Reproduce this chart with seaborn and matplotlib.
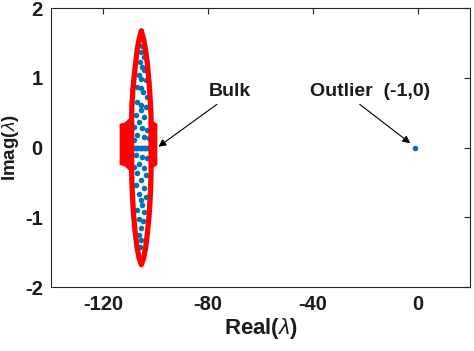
import matplotlib
matplotlib.use("Agg")
import matplotlib.pyplot as plt
import seaborn as sns
import pandas as pd

# ---------------- data ----------------
# red boundary of the bulk spectrum (centre line of the thick red curve)
outline_x = [-105.5, -104.6, -103.9, -103.2, -102.7, -102.3, -102.0, -101.8, -101.8,
             -101.8, -101.9, -102.1, -102.5, -103.1, -103.8, -104.6, -105.5,
             -106.4, -107.2, -107.9, -108.5, -108.9, -109.1, -109.2, -109.2,
             -109.2, -109.1, -108.8, -108.3, -107.7, -107.1, -106.4, -105.5]
outline_y = [1.67, 1.55, 1.40, 1.20, 1.00, 0.80, 0.60, 0.45, 0.35,
             -0.35, -0.50, -0.70, -0.95, -1.20, -1.42, -1.58, -1.68,
             -1.58, -1.42, -1.20, -0.95, -0.70, -0.50, -0.35, 0.35,
             0.45, 0.60, 0.80, 1.00, 1.20, 1.40, 1.55, 1.67]
# red blocks near the real axis
left_block_x = [-109.3, -111.8, -113.8, -113.8, -111.8, -109.3]
left_block_y = [0.45, 0.36, 0.34, -0.25, -0.27, -0.36]
right_block_x = [-101.8, -99.4, -99.4, -101.8]
right_block_y = [0.40, 0.34, -0.25, -0.31]

# blue eigenvalues of the bulk
bulk_x = [-105.2, -105.8, -104.6, -106.1, -105.2, -104.3, -106.5, -105.6, -103.9,
          -107.1, -105.8, -104.8, -103.3, -107.1, -105.6, -103.9,
          -105.8, -107.7, -104.6, -106.5, -108.4, -105.2, -103.3, -107.1, -104.6,
          -102.7, -108.4,
          -107.7, -105.2, -103.3, -106.5, -108.4, -104.6, -107.1, -103.9, -105.8,
          -107.7,
          -104.6, -106.5, -103.9, -105.8, -105.2, -107.1, -104.6, -106.5, -104.8,
          -105.8, -106.5, -105.6, -106.1]
bulk_y = [1.45, 1.37, 1.30, 1.23, 1.16, 1.11, 1.04, 0.99, 0.97,
          0.87, 0.85, 0.80, 0.73, 0.66, 0.61, 0.58,
          0.54, 0.47, 0.44, 0.37, 0.30, 0.28, 0.25, 0.18, 0.15,
          0.13, 0.11,
          -0.11, -0.13, -0.15, -0.23, -0.28, -0.30, -0.37, -0.39, -0.47,
          -0.54,
          -0.58, -0.66, -0.71, -0.75, -0.82, -0.90, -0.92, -1.02, -1.06,
          -1.16, -1.25, -1.33, -1.42]
# real eigenvalues of the bulk (dense row on the real axis)
axis_x = [-109.6, -109.1, -108.6, -108.1, -107.6, -107.1, -106.6, -106.1, -105.6,
          -105.1, -104.6, -104.1, -103.6, -103.1, -102.6, -102.1]
axis_y = [0.0] * len(axis_x)
# the outlier
outlier_x = [-1.0]
outlier_y = [0.0]

x_ticks = [-120, -80, -40, 0]
y_ticks = [-2, -1, 0, 1, 2]

# ---------------- plotting ----------------
sns.set_theme(style="white")
plt.rcParams["font.family"] = ["Liberation Sans", "DejaVu Sans"]
plt.rcParams["mathtext.fontset"] = "custom"
plt.rcParams["mathtext.it"] = "Liberation Sans:italic"
plt.rcParams["mathtext.rm"] = "Liberation Sans"

red = "#FF0000"
blue = "#0072BD"

fig = plt.figure(figsize=(4.74, 3.51), dpi=100)
ax = fig.add_axes([0.1076, 0.1823, 0.8840, 0.7947])

bulk = pd.DataFrame({"x": bulk_x + axis_x, "y": bulk_y + axis_y})
sns.scatterplot(data=bulk, x="x", y="y", color=blue, s=16, linewidth=0, ax=ax, zorder=2)
out = pd.DataFrame({"x": outlier_x, "y": outlier_y})
sns.scatterplot(data=out, x="x", y="y", color=blue, s=16, linewidth=0, ax=ax, zorder=2)

ol = pd.DataFrame({"x": outline_x, "y": outline_y})
sns.lineplot(data=ol, x="x", y="y", sort=False, estimator=None, color=red,
             lw=3.8, ax=ax, solid_joinstyle="round", solid_capstyle="round", zorder=3)
ax.fill(left_block_x, left_block_y, color=red, lw=0, zorder=3)
ax.fill(right_block_x, right_block_y, color=red, lw=0, zorder=3)

ax.set_xlim(-140, 20)
ax.set_ylim(-2, 2)
ax.set_xticks(x_ticks)
ax.set_yticks(y_ticks)
ax.set_xticklabels([str(t) for t in x_ticks], fontsize=14.5, fontweight="bold")
ax.set_yticklabels([str(t) for t in y_ticks], fontsize=14.5, fontweight="bold")
ax.tick_params(direction="in", length=4, width=0.8, color="#262626",
               top=True, right=True, pad=6, labelcolor="#1a1a1a")
for s in ax.spines.values():
    s.set_visible(True)
    s.set_color("#262626")
    s.set_linewidth(0.8)

ax.set_xlabel(r"Real($\lambda$)", fontsize=16, fontweight="bold", labelpad=1, color="#1a1a1a")
ax.set_ylabel(r"Imag($\lambda$)", fontsize=13.5, fontweight="bold", color="#1a1a1a")
ax.yaxis.set_label_coords(-0.072, 0.5)

arrow = dict(arrowstyle="-|>", color="black", lw=0.8, mutation_scale=11, shrinkA=1, shrinkB=1)
ax.annotate("Bulk", xy=(-99.4, 0.0), xytext=(-71.6, 0.80), fontsize=14, fontweight="bold",
            ha="center", va="center", color="#1a1a1a",
            arrowprops=dict(arrow, relpos=(0.32, 0.0)))
ax.annotate("Outlier  (-1,0)", xy=(-2.4, 0.05), xytext=(-18.2, 0.80), fontsize=14,
            fontweight="bold", ha="center", va="center", color="#1a1a1a",
            arrowprops=dict(arrow, relpos=(0.37, 0.0)))

fig.savefig("out.png", dpi=100)
